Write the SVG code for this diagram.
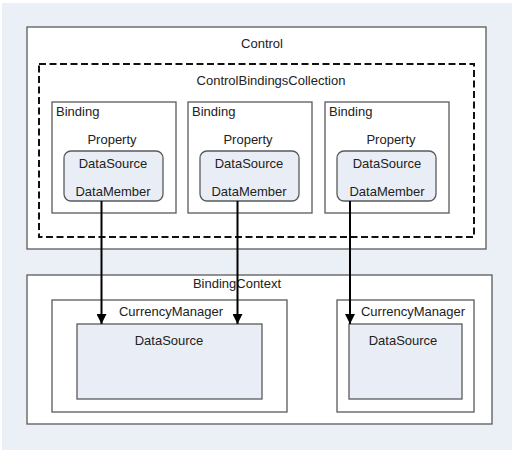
<svg xmlns="http://www.w3.org/2000/svg" width="515" height="452" viewBox="0 0 515 452">
<defs>
<style>
.box{fill:#ffffff;stroke:#5a5a5a;stroke-width:1.3}
.ds{fill:#e9eef6;stroke:#5a5a5a;stroke-width:1.3}
.dash{fill:none;stroke:#111;stroke-width:2;stroke-dasharray:7 3.5}
.t{font-family:"Liberation Sans",Arial,sans-serif;font-size:13px;fill:#222222}
.c{text-anchor:middle}
.con{stroke:#000;stroke-width:2;fill:none}
</style>
<marker id="ah" viewBox="0 0 10 10" refX="10" refY="5" markerWidth="5" markerHeight="5" markerUnits="strokeWidth" orient="auto">
<path d="M0,0 L10,5 L0,10 z" fill="#000"/>
</marker>
</defs>
<rect x="2" y="3" width="510" height="447" fill="#ebeff6"/>
<g id="control">
<rect class="box" x="27" y="27" width="459" height="222"/>
<text class="t c" x="262" y="48">Control</text>
</g>
<g id="controlBindingsCollection">
<rect class="dash" x="39" y="64" width="435" height="173"/>
<text class="t c" x="271" y="85">ControlBindingsCollection</text>
</g>
<g id="binding1">
<rect class="box" x="52" y="102" width="124" height="111"/>
<text class="t" x="56" y="116">Binding</text>
<text class="t c" x="112" y="144">Property</text>
<rect class="ds" x="64" y="151" width="99" height="50" rx="7"/>
<text class="t c" x="113" y="168">DataSource</text>
<text class="t c" x="113" y="196">DataMember</text>
</g>
<g id="binding2">
<rect class="box" x="188" y="102" width="124" height="111"/>
<text class="t" x="192" y="116">Binding</text>
<text class="t c" x="248" y="144">Property</text>
<rect class="ds" x="200" y="151" width="99" height="50" rx="7"/>
<text class="t c" x="249" y="168">DataSource</text>
<text class="t c" x="249" y="196">DataMember</text>
</g>
<g id="binding3">
<rect class="box" x="325" y="102" width="124" height="111"/>
<text class="t" x="329" y="116">Binding</text>
<text class="t c" x="391" y="144">Property</text>
<rect class="ds" x="337" y="151" width="99" height="50" rx="7"/>
<text class="t c" x="387" y="168">DataSource</text>
<text class="t c" x="387" y="196">DataMember</text>
</g>
<g id="bindingContext">
<rect class="box" x="27" y="275" width="465" height="149"/>
<text class="t c" x="237" y="288">BindingContext</text>
</g>
<g id="currencyManager1">
<rect class="box" x="52" y="300" width="235" height="112"/>
<text class="t c" x="171" y="316">CurrencyManager</text>
<rect class="ds" x="77" y="324" width="185" height="75"/>
<text class="t c" x="169" y="345">DataSource</text>
</g>
<g id="currencyManager2">
<rect class="box" x="337" y="300" width="137" height="112"/>
<text class="t c" x="413" y="316">CurrencyManager</text>
<rect class="ds" x="349" y="324" width="113" height="75"/>
<text class="t c" x="403" y="345">DataSource</text>
</g>
<g id="connectors">
<line class="con" x1="101.5" y1="201" x2="101.5" y2="324" marker-end="url(#ah)"/>
<line class="con" x1="237.5" y1="201" x2="237.5" y2="324" marker-end="url(#ah)"/>
<line class="con" x1="350" y1="201" x2="350" y2="324" marker-end="url(#ah)"/>
</g>
</svg>
